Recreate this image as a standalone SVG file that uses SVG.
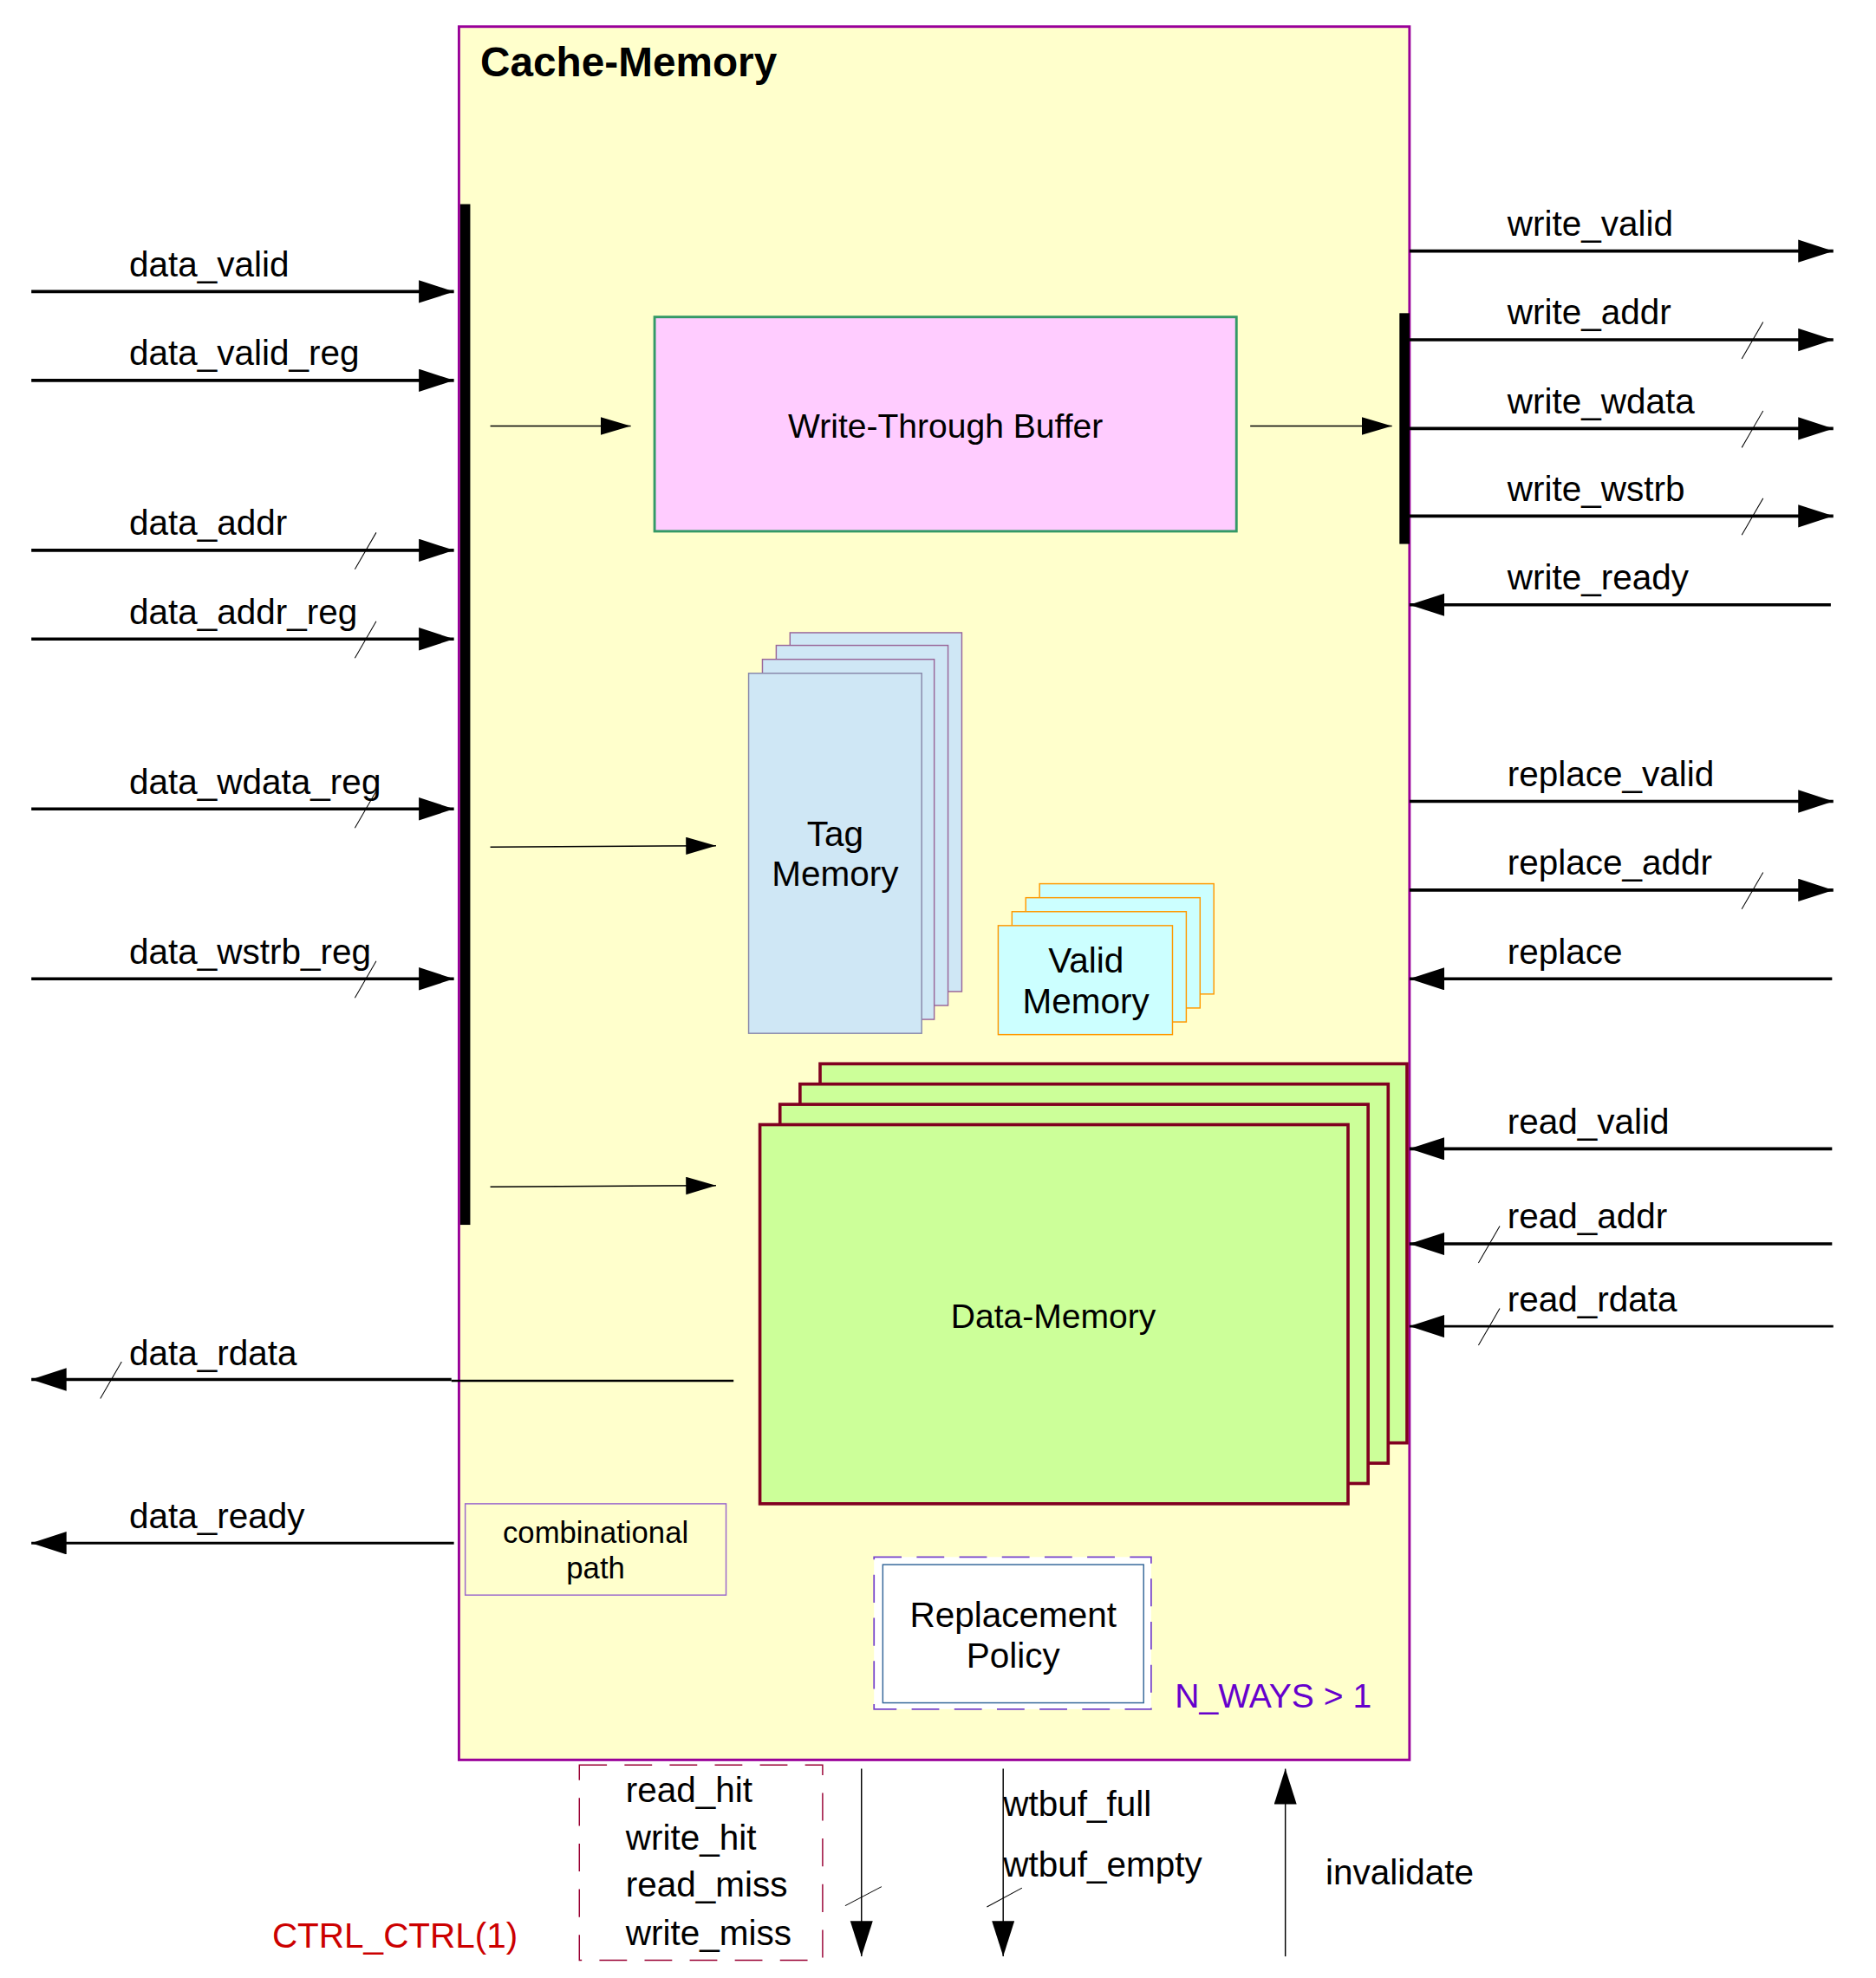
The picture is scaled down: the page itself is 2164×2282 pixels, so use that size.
<svg xmlns="http://www.w3.org/2000/svg" width="2164" height="2282" viewBox="0 0 2164 2282">
<style>
text{font-family:"Liberation Sans",Arial,sans-serif;fill:#000}
.lbl{font-size:28px}
.thick{stroke:#000;stroke-width:2.5;fill:none}
.thin{stroke:#000;stroke-width:1;fill:none}
.sl{stroke:#000;stroke-width:0.7}
</style>
<defs>
<marker id="ah" markerUnits="userSpaceOnUse" markerWidth="30" markerHeight="20" refX="28" refY="9" orient="auto"><path d="M0,0 L28,9 L0,18 Z" fill="#000"/></marker>
<marker id="ahs" markerUnits="userSpaceOnUse" markerWidth="26" markerHeight="16" refX="24" refY="7" orient="auto"><path d="M0,0 L24,7 L0,14 Z" fill="#000"/></marker>
</defs>
<rect width="2164" height="2282" fill="#fff"/>
<g transform="scale(1.4465,1.4628)">
<g id="cache">
<rect x="366" y="21" width="758" height="1367" fill="#ffffcc" stroke="#990099" stroke-width="2"/>
<text x="383" y="60" font-size="33" font-weight="bold">Cache-Memory</text>
<rect x="367" y="161" width="8" height="805" fill="#000"/>
<rect x="1116" y="247" width="8" height="182" fill="#000"/>
</g>
<g id="wtbuf">
<rect x="522" y="250" width="464" height="169" fill="#ffccff" stroke="#339966" stroke-width="2"/>
<text x="754" y="345" font-size="27" text-anchor="middle">Write-Through Buffer</text>
</g>
<g id="tagmem">
<rect x="630" y="499" width="137" height="283" fill="#cfe7f5" stroke="#996699" stroke-width="1"/>
<rect x="619" y="509" width="137" height="284" fill="#cfe7f5" stroke="#996699" stroke-width="1"/>
<rect x="608" y="520" width="137" height="284" fill="#cfe7f5" stroke="#996699" stroke-width="1"/>
<rect x="597" y="531" width="138" height="284" fill="#cfe7f5" stroke="#8888aa" stroke-width="1"/>
<text x="666" y="667" font-size="28" text-anchor="middle">Tag</text>
<text x="666" y="699" font-size="28" text-anchor="middle">Memory</text>
</g>
<g id="validmem">
<rect x="829" y="697" width="139" height="87" fill="#ccffff" stroke="#ff9900" stroke-width="1"/>
<rect x="818" y="708" width="139" height="87" fill="#ccffff" stroke="#ff9900" stroke-width="1"/>
<rect x="807" y="719" width="139" height="87" fill="#ccffff" stroke="#ff9900" stroke-width="1"/>
<rect x="796" y="730" width="139" height="86" fill="#ccffff" stroke="#ff9900" stroke-width="1"/>
<text x="866" y="767" font-size="28" text-anchor="middle">Valid</text>
<text x="866" y="799" font-size="28" text-anchor="middle">Memory</text>
</g>
<g id="datamem">
<rect x="654" y="839" width="468" height="299" fill="#ccff99" stroke="#800020" stroke-width="2.5"/>
<rect x="638" y="855" width="469" height="299" fill="#ccff99" stroke="#800020" stroke-width="2.5"/>
<rect x="622" y="871" width="469" height="299" fill="#ccff99" stroke="#800020" stroke-width="2.5"/>
<rect x="606" y="887" width="469" height="299" fill="#ccff99" stroke="#800020" stroke-width="2.5"/>
<text x="840" y="1047" font-size="27" text-anchor="middle">Data-Memory</text>
</g>
<g id="combpath">
<rect x="371" y="1186" width="208" height="72" fill="none" stroke="#9966cc" stroke-width="1"/>
<text x="475" y="1217" font-size="24" text-anchor="middle">combinational</text>
<text x="475" y="1245" font-size="24" text-anchor="middle">path</text>
</g>
<g id="replpolicy">
<rect x="697" y="1228" width="221" height="120" fill="#fff" stroke="#7744cc" stroke-width="1.2" stroke-dasharray="22,12"/>
<rect x="704" y="1234" width="208" height="109" fill="#fff" stroke="#336699" stroke-width="1"/>
<text x="808" y="1283" font-size="28" text-anchor="middle">Replacement</text>
<text x="808" y="1315" font-size="28" text-anchor="middle">Policy</text>
<text x="937" y="1347" font-size="27" fill="#6600cc" style="fill:#6600cc">N_WAYS &gt; 1</text>
</g>
<g id="ctrlbox">
<rect x="462" y="1392" width="194" height="154" fill="none" stroke="#990033" stroke-width="1" stroke-dasharray="22,14"/>
<text x="499" y="1421" class="lbl">read_hit</text>
<text x="499" y="1459" class="lbl">write_hit</text>
<text x="499" y="1496" class="lbl">read_miss</text>
<text x="499" y="1534" class="lbl">write_miss</text>
<text x="217" y="1536" class="lbl" style="fill:#cc0000">CTRL_CTRL(1)</text>
</g>
<g id="labels">
<text x="103" y="218" class="lbl">data_valid</text>
<text x="103" y="288" class="lbl">data_valid_reg</text>
<text x="103" y="422" class="lbl">data_addr</text>
<text x="103" y="492" class="lbl">data_addr_reg</text>
<text x="103" y="626" class="lbl">data_wdata_reg</text>
<text x="103" y="760" class="lbl">data_wstrb_reg</text>
<text x="103" y="1077" class="lbl">data_rdata</text>
<text x="103" y="1205" class="lbl">data_ready</text>
<text x="1202" y="186" class="lbl">write_valid</text>
<text x="1202" y="256" class="lbl">write_addr</text>
<text x="1202" y="326" class="lbl">write_wdata</text>
<text x="1202" y="395" class="lbl">write_wstrb</text>
<text x="1202" y="465" class="lbl">write_ready</text>
<text x="1202" y="620" class="lbl">replace_valid</text>
<text x="1202" y="690" class="lbl">replace_addr</text>
<text x="1202" y="760" class="lbl">replace</text>
<text x="1202" y="894" class="lbl">read_valid</text>
<text x="1202" y="969" class="lbl">read_addr</text>
<text x="1202" y="1034" class="lbl">read_rdata</text>
<text x="800" y="1432" class="lbl">wtbuf_full</text>
<text x="800" y="1480" class="lbl">wtbuf_empty</text>
<text x="1057" y="1486" class="lbl">invalidate</text>
</g>
<g id="connectors">
<line x1="25" y1="230" x2="362" y2="230" class="thick" marker-end="url(#ah)"/>
<line x1="25" y1="300" x2="362" y2="300" class="thick" marker-end="url(#ah)"/>
<line x1="25" y1="434" x2="362" y2="434" class="thick" marker-end="url(#ah)"/>
<line x1="25" y1="504" x2="362" y2="504" class="thick" marker-end="url(#ah)"/>
<line x1="25" y1="638" x2="362" y2="638" class="thick" marker-end="url(#ah)"/>
<line x1="25" y1="772" x2="362" y2="772" class="thick" marker-end="url(#ah)"/>
<line x1="283" y1="449" x2="300" y2="420" class="sl"/>
<line x1="283" y1="519" x2="300" y2="490" class="sl"/>
<line x1="283" y1="653" x2="300" y2="624" class="sl"/>
<line x1="283" y1="787" x2="300" y2="758" class="sl"/>
<line x1="391" y1="336" x2="503" y2="336" class="thin" marker-end="url(#ahs)"/>
<line x1="391" y1="668" x2="571" y2="667" class="thin" marker-end="url(#ahs)"/>
<line x1="391" y1="936" x2="571" y2="935" class="thin" marker-end="url(#ahs)"/>
<line x1="997" y1="336" x2="1110" y2="336" class="thin" marker-end="url(#ahs)"/>
<line x1="1124" y1="198" x2="1462" y2="198" class="thick" marker-end="url(#ah)"/>
<line x1="1124" y1="268" x2="1462" y2="268" class="thick" marker-end="url(#ah)"/>
<line x1="1124" y1="338" x2="1462" y2="338" class="thick" marker-end="url(#ah)"/>
<line x1="1124" y1="407" x2="1462" y2="407" class="thick" marker-end="url(#ah)"/>
<line x1="1460" y1="477" x2="1124" y2="477" class="thick" marker-end="url(#ah)"/>
<line x1="1124" y1="632" x2="1462" y2="632" class="thick" marker-end="url(#ah)"/>
<line x1="1124" y1="702" x2="1462" y2="702" class="thick" marker-end="url(#ah)"/>
<line x1="1461" y1="772" x2="1124" y2="772" class="thick" marker-end="url(#ah)"/>
<line x1="1461" y1="906" x2="1124" y2="906" class="thick" marker-end="url(#ah)"/>
<line x1="1461" y1="981" x2="1124" y2="981" class="thick" marker-end="url(#ah)"/>
<line x1="1462" y1="1046" x2="1124" y2="1046" stroke="#000" stroke-width="1.8" marker-end="url(#ah)"/>
<line x1="1389" y1="283" x2="1406" y2="254" class="sl"/>
<line x1="1389" y1="353" x2="1406" y2="324" class="sl"/>
<line x1="1389" y1="422" x2="1406" y2="393" class="sl"/>
<line x1="1389" y1="717" x2="1406" y2="688" class="sl"/>
<line x1="1179" y1="996" x2="1196" y2="967" class="sl"/>
<line x1="1179" y1="1061" x2="1196" y2="1032" class="sl"/>
<line x1="585" y1="1089" x2="360" y2="1089" stroke="#000" stroke-width="1.8"/>
<line x1="360" y1="1088" x2="25" y2="1088" class="thick" marker-end="url(#ah)"/>
<line x1="80" y1="1103" x2="97" y2="1074" class="sl"/>
<line x1="362" y1="1217" x2="25" y2="1217" stroke="#000" stroke-width="2" marker-end="url(#ah)"/>
<line x1="687" y1="1395" x2="687" y2="1543" class="thin" marker-end="url(#ah)"/>
<line x1="674" y1="1503" x2="703" y2="1488" class="sl"/>
<line x1="800" y1="1395" x2="800" y2="1543" class="thin" marker-end="url(#ah)"/>
<line x1="787" y1="1504" x2="815" y2="1489" class="sl"/>
<line x1="1025" y1="1543" x2="1025" y2="1395" class="thin" marker-end="url(#ah)"/>
</g>
</g>
</svg>
